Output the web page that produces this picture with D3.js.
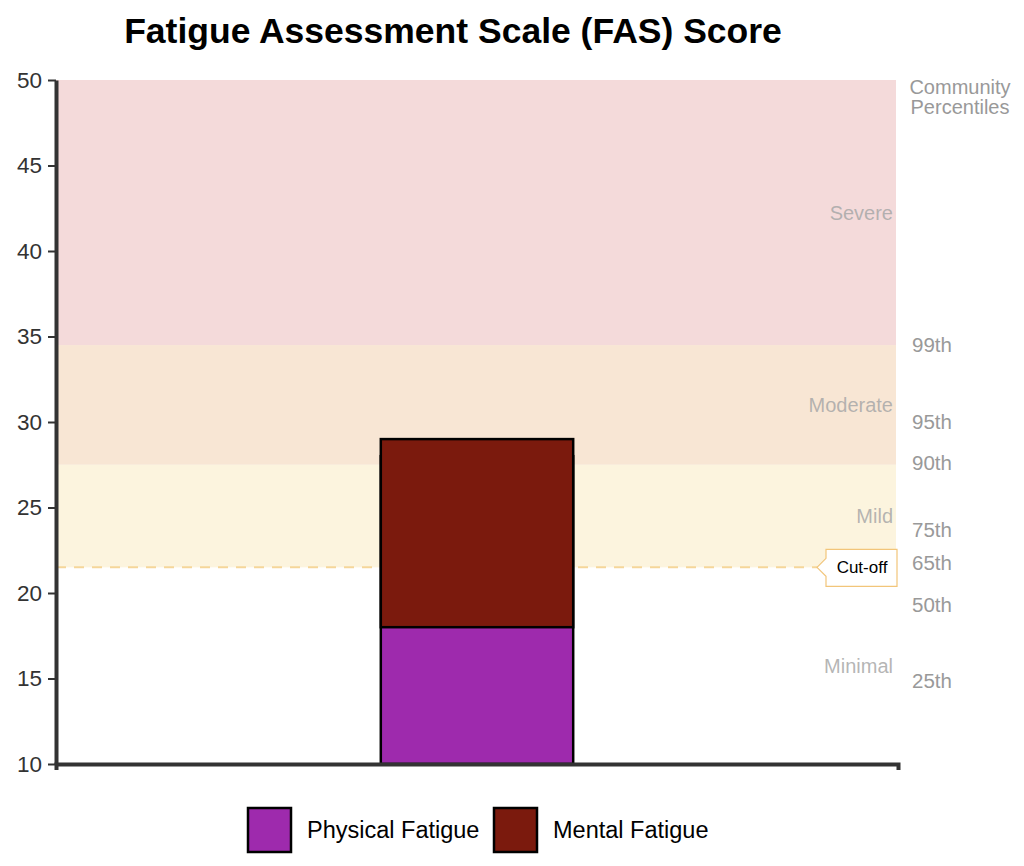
<!DOCTYPE html>
<html>
<head>
<meta charset="utf-8">
<script src="https://cdn.jsdelivr.net/npm/d3@7"></script>
<style>
  body { margin: 0; background: #fff; font-family: "Liberation Sans", Arial, Helvetica, sans-serif; }
</style>
</head>
<body>
<svg id="chart" width="1024" height="866"></svg>
<script>
// data
var categories = ["FAS"]
var physical_values = [18]
var mental_values = [11]
var series_names = ["Physical Fatigue", "Mental Fatigue"]
var series_colors = ["#9e2aad", "#7b1a0d"]

var band_names = ["Minimal", "Mild", "Moderate", "Severe"]
var band_from = [10, 21.5, 27.5, 34.5]
var band_to = [21.5, 27.5, 34.5, 50]
var band_colors = ["#ffffff", "#fcf4de", "#f8e6d4", "#f4dada"]

var percentile_labels = ["99th", "95th", "90th", "75th", "65th", "50th", "25th"]
var percentile_scores = [34.5, 30, 27.6, 23.7, 21.8, 19.3, 14.9]

var cutoff_score = 21.5
var y_ticks = [10, 15, 20, 25, 30, 35, 40, 45, 50]

var svg = d3.select("#chart")
var left = 56, right = 898, top_y = 80, bottom = 764

var y = d3.scaleLinear().domain([10, 50]).range([bottom, top_y])
var x = d3.scaleBand().domain(categories).range([left, right]).padding(0.628)

// severity bands
svg.append("g").selectAll("rect")
    .data(band_names)
    .enter().append("rect")
    .attr("x", left)
    .attr("width", 896 - left)
    .attr("y", function(d, i) { return y(band_to[i]) })
    .attr("height", function(d, i) { return y(band_from[i]) - y(band_to[i]) })
    .attr("fill", function(d, i) { return band_colors[i] })

svg.append("g").selectAll("text")
    .data(band_names)
    .enter().append("text")
    .attr("x", 893)
    .attr("y", function(d, i) { return y((band_from[i] + band_to[i]) / 2) + 2 })
    .attr("text-anchor", "end")
    .attr("dominant-baseline", "middle")
    .attr("font-size", 20)
    .attr("fill", "#a8a8a8")
    .attr("fill-opacity", 0.85)
    .text(function(d) { return d })

// cut-off line
svg.append("line")
    .attr("x1", left).attr("x2", 822)
    .attr("y1", y(cutoff_score)).attr("y2", y(cutoff_score))
    .attr("stroke", "#f5d69a")
    .attr("stroke-width", 2)
    .attr("stroke-dasharray", "10,8")

// stacked bar
var stack_data = categories.map(function(c, i) {
    return { cat: c, "Physical Fatigue": physical_values[i], "Mental Fatigue": mental_values[i] }
})
var stacked = d3.stack().keys(series_names)(stack_data)

svg.append("g").selectAll("g")
    .data(stacked)
    .enter().append("g")
    .attr("fill", function(d, i) { return series_colors[i] })
    .selectAll("rect")
    .data(function(d) { return d })
    .enter().append("rect")
    .attr("x", function(d) { return x(d.data.cat) })
    .attr("width", x.bandwidth())
    .attr("y", function(d) { return y(d[1] + 10 * (d[0] == 0)) })
    .attr("height", function(d) { return y(d[0] + 10 * (d[0] == 0)) - y(d[1] + 10 * (d[0] == 0)) })
    .attr("stroke", "#000")
    .attr("stroke-width", 2.5)

// cut-off callout
var cy = y(cutoff_score)
svg.append("path")
    .attr("d", "M817," + cy + " L826," + (cy - 9) + " L826," + (cy - 18) + " L897," + (cy - 18) +
        " L897," + (cy + 19) + " L826," + (cy + 19) + " L826," + (cy + 9) + " Z")
    .attr("fill", "#fff")
    .attr("stroke", "#f2c57a")
    .attr("stroke-width", 1.2)
svg.append("text")
    .attr("x", 862).attr("y", cy + 1)
    .attr("text-anchor", "middle")
    .attr("dominant-baseline", "middle")
    .attr("font-size", 17)
    .attr("fill", "#000")
    .text("Cut-off")

// percentile labels
svg.append("text")
    .attr("x", 960).attr("y", 89)
    .attr("text-anchor", "middle")
    .attr("font-size", 20)
    .attr("fill", "#999")
    .selectAll("tspan")
    .data(["Community", "Percentiles"])
    .enter().append("tspan")
    .attr("x", 960)
    .attr("dy", function(d, i) { return i == 0 ? 0 : 20 })
    .attr("dominant-baseline", "middle")
    .text(function(d) { return d })

svg.append("g").selectAll("text")
    .data(percentile_labels)
    .enter().append("text")
    .attr("x", 912)
    .attr("y", function(d, i) { return y(percentile_scores[i]) + 2 })
    .attr("dominant-baseline", "middle")
    .attr("font-size", 20.5)
    .attr("fill", "#999")
    .text(function(d) { return d })

// axes
var y_axis = svg.append("g")
    .attr("transform", "translate(" + left + ",0)")
    .call(d3.axisLeft(y).tickValues(y_ticks).tickSize(8).tickSizeOuter(0).tickPadding(6))
y_axis.select(".domain").attr("stroke", "#333").attr("stroke-width", 4)
y_axis.selectAll(".tick line").attr("stroke", "#333").attr("stroke-width", 2)
y_axis.selectAll(".tick text")
    .attr("font-size", 22.5)
    .attr("fill", "#333")
    .attr("font-family", "Liberation Sans, Arial, sans-serif")

var x_axis = svg.append("g")
    .attr("transform", "translate(0," + bottom + ")")
    .call(d3.axisBottom(x).tickValues([]).tickSizeOuter(6))
x_axis.select(".domain").attr("stroke", "#333").attr("stroke-width", 4)

// title
svg.append("text")
    .attr("x", 453).attr("y", 34)
    .attr("text-anchor", "middle")
    .attr("dominant-baseline", "middle")
    .attr("font-size", 35.5)
    .attr("font-weight", "bold")
    .attr("fill", "#000")
    .text("Fatigue Assessment Scale (FAS) Score")

// legend
var legend = svg.append("g").selectAll("g")
    .data(series_names)
    .enter().append("g")
    .attr("transform", function(d, i) { return "translate(" + [248, 494][i] + ",808)" })

legend.append("rect")
    .attr("width", 43).attr("height", 44)
    .attr("fill", function(d, i) { return series_colors[i] })
    .attr("stroke", "#000")
    .attr("stroke-width", 2.5)

legend.append("text")
    .attr("x", 59).attr("y", 24)
    .attr("dominant-baseline", "middle")
    .attr("font-size", 23.5)
    .attr("fill", "#000")
    .text(function(d) { return d })
</script>
</body>
</html>
